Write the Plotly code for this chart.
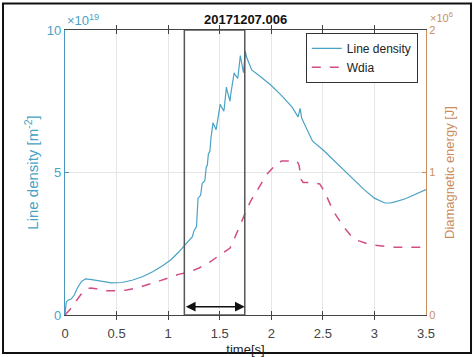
import plotly.graph_objects as go

# ---- data ----
t_ne = [0, 0.012, 0.03, 0.06, 0.09, 0.12, 0.16, 0.2, 0.26, 0.35, 0.45, 0.55, 0.65, 0.75,
        0.85, 0.95, 1.03, 1.1, 1.15, 1.2, 1.235, 1.25, 1.265, 1.275, 1.29, 1.305, 1.315,
        1.33, 1.345, 1.355, 1.37, 1.38, 1.39, 1.405, 1.415, 1.435, 1.44, 1.465, 1.47,
        1.505, 1.51, 1.54, 1.545, 1.565, 1.57, 1.6, 1.605, 1.64, 1.645, 1.675, 1.68,
        1.70, 1.705, 1.73, 1.735, 1.748, 1.76, 1.78, 1.81, 1.9, 2.0, 2.1, 2.2, 2.26,
        2.28, 2.295, 2.35, 2.4, 2.5, 2.6, 2.7, 2.8, 2.9, 3.0, 3.1, 3.15, 3.2, 3.3, 3.4, 3.5]
line_density = [0, 0.45, 0.52, 0.56, 0.7, 0.95, 1.18, 1.27, 1.24, 1.18, 1.13, 1.14, 1.22, 1.34,
                1.52, 1.74, 1.95, 2.2, 2.4, 2.62, 2.75, 2.95, 3.05, 3.1, 4.1, 4.15, 4.2,
                4.62, 4.66, 4.7, 5.2, 5.25, 5.65, 5.75, 6.2, 6.75, 6.7, 6.5, 6.6,
                7.4, 7.35, 7.15, 7.3, 8.0, 7.9, 7.5, 7.7, 8.5, 8.45, 8.3, 8.5,
                9.1, 9.0, 8.5, 8.7, 9.25, 9.05, 8.85, 8.6, 8.35, 8.05, 7.7, 7.3, 6.95,
                7.25, 6.9, 6.45, 6.1, 5.8, 5.45, 5.1, 4.75, 4.4, 4.1, 3.93, 3.93, 3.97, 4.08, 4.25, 4.4]

t_w = [0, 0.05, 0.1, 0.15, 0.2, 0.25, 0.3, 0.4, 0.5, 0.6, 0.7, 0.8, 0.9, 1.0, 1.1, 1.2,
       1.3, 1.4, 1.5, 1.6, 1.65, 1.7, 1.75, 1.8, 1.9, 1.96, 2.05, 2.1, 2.25, 2.27, 2.29,
       2.31, 2.4, 2.47, 2.52, 2.6, 2.7, 2.78, 2.85, 2.93, 3.0, 3.1, 3.2, 3.3, 3.5]
wdia = [0, 0.04, 0.09, 0.14, 0.18, 0.19, 0.185, 0.17, 0.17, 0.175, 0.19, 0.21, 0.235, 0.26,
        0.285, 0.30, 0.33, 0.37, 0.42, 0.47, 0.55, 0.64, 0.72, 0.80, 0.92, 0.99, 1.06, 1.08,
        1.08, 1.05, 0.95, 0.93, 0.93, 0.92, 0.86, 0.73, 0.62, 0.55, 0.52, 0.5, 0.49, 0.48,
        0.475, 0.475, 0.475]

x_ticks = [0, 0.5, 1, 1.5, 2, 2.5, 3, 3.5]
x_ticklabels = ["0", "0.5", "1", "1.5", "2", "2.5", "3", "3.5"]
y1_ticks = [0, 5, 10]
y2_ticks = [0, 1, 2]
window = [1.157, 1.743]
title = "20171207.006"

BLUE = "#4aa3c4"
BLUE_AX = "#4a95c0"
ORANGE = "#c98d5e"
PINK = "#d24d86"
FONT = "Liberation Sans"

fig = go.Figure()
fig.add_trace(go.Scatter(x=t_ne, y=line_density, mode="lines", name="Line density",
                         line=dict(color=BLUE, width=1.2)))
fig.add_trace(go.Scatter(x=t_w, y=wdia, mode="lines", name="Wdia", yaxis="y2",
                         line=dict(color=PINK, width=1.5, dash="dash")))

fig.update_layout(
    width=474, height=357,
    margin=dict(l=65, r=48, t=29.5, b=42),
    paper_bgcolor="white", plot_bgcolor="white",
    font=dict(family=FONT, size=12, color="#333"),
    showlegend=True,
    legend=dict(x=0.667, y=0.99, xanchor="left", yanchor="top",
                bordercolor="#333", borderwidth=1, bgcolor="white",
                font=dict(size=12, color="#222"), tracegroupgap=0),
    xaxis=dict(range=[0, 3.5], tickvals=x_ticks, ticktext=x_ticklabels, automargin=False,
               showgrid=True, gridcolor="#e6e6e6", gridwidth=1,
               showline=True, linecolor="#444", linewidth=1.2, mirror="allticks",
               ticks="inside", ticklen=4, tickcolor="#444", ticklabelstandoff=6,
               tickfont=dict(size=13, color="#444"), zeroline=False,
               title=dict(text="time[s]", font=dict(size=13, color="#222"), standoff=6)),
    yaxis=dict(range=[0, 10], tickvals=y1_ticks, showgrid=True, gridcolor="#e6e6e6",
               automargin=False,
               showline=True, linecolor=BLUE_AX, linewidth=1.2,
               ticks="inside", ticklen=4, tickcolor=BLUE_AX,
               tickfont=dict(size=13, color=BLUE), zeroline=False,
               title=dict(text="Line density [m<sup>-2</sup>]", font=dict(size=15, color=BLUE), standoff=4)),
    yaxis2=dict(range=[0, 2], tickvals=y2_ticks, overlaying="y", side="right",
                automargin=False,
                showgrid=False, showline=True, linecolor=ORANGE, linewidth=1.2,
                ticks="inside", ticklen=4, tickcolor=ORANGE,
                tickfont=dict(size=11, color=ORANGE), zeroline=False,
                title=dict(text="Diamagnetic energy [J]", font=dict(size=13, color=ORANGE), standoff=10)),
)

# window rectangle
fig.add_shape(type="rect", xref="x", yref="y", x0=window[0], x1=window[1], y0=0, y1=10,
              line=dict(color="#555", width=1.5))
# double arrow
fig.add_annotation(x=window[1], y=0.29, ax=window[0], ay=0.29, xref="x", yref="y",
                   axref="x", ayref="y", text="", showarrow=True, arrowhead=2,
                   arrowside="end+start", arrowsize=1.3, arrowwidth=1.5, arrowcolor="#111")
# title
fig.add_annotation(text="<b>" + title + "</b>", xref="paper", yref="paper", x=0.5, y=1.0,
                   xanchor="center", yanchor="bottom", yshift=1, showarrow=False,
                   font=dict(size=13, color="#111"))
# exponent labels
fig.add_annotation(text="×10<sup>19</sup>", xref="paper", yref="paper", x=0.0, y=1.0,
                   xanchor="left", yanchor="bottom", yshift=0, showarrow=False,
                   font=dict(size=13, color=BLUE))
fig.add_annotation(text="×10<sup>6</sup>", xref="paper", yref="paper", x=1.0, y=1.0,
                   xanchor="left", yanchor="bottom", yshift=4, xshift=2, showarrow=False,
                   font=dict(size=11, color=ORANGE))
# outer frame
fig.add_shape(type="rect", xref="paper", yref="paper", x0=-0.1717, x1=1.1247,
              y0=-0.1331, y1=1.0928, line=dict(color="#111", width=2), layer="above")

fig.write_html("out.html", config={"displayModeBar": False},
               post_script="document.body.style.margin='0px';document.body.style.overflow='hidden';")
